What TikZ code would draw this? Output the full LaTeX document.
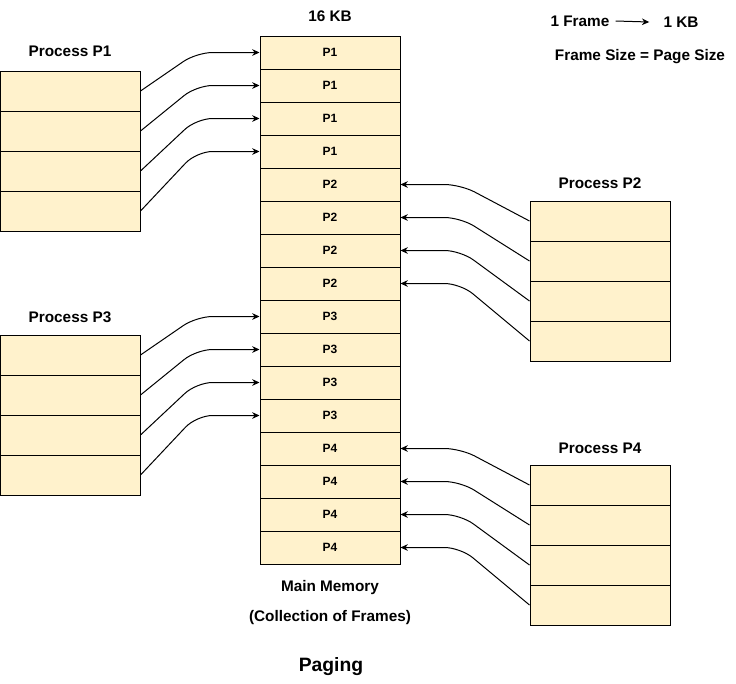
\documentclass[tikz,border=0pt]{standalone}
\usepackage{fontspec}
\setmainfont{Liberation Sans}
\usetikzlibrary{arrows.meta,calc}
\definecolor{boxfill}{HTML}{FFF2CC}
\tikzset{
  mem/.style={draw=black, fill=boxfill, line width=0.75pt, minimum width=105pt, minimum height=24.75pt, inner sep=0pt, font=\fontsize{9}{11}\selectfont\bfseries},
  pbox/.style={draw=black, fill=boxfill, line width=0.75pt, minimum width=105pt, minimum height=30pt, inner sep=0pt},
  lbl/.style={inner sep=0pt, font=\fontsize{11.5}{14}\selectfont\bfseries},
  title/.style={inner sep=0pt, font=\fontsize{14.5}{17}\selectfont\bfseries},
  conn/.style={draw=black, line width=0.75pt, rounded corners=12pt, -{Stealth[length=5.5pt,width=5pt]}},
}
\begin{document}
\begin{tikzpicture}[x=0.75pt,y=-0.75pt]
\useasboundingbox (0,0) rectangle (736,683);
% main memory
\foreach \i/\t in {1/P1,2/P1,3/P1,4/P1,5/P2,6/P2,7/P2,8/P2,9/P3,10/P3,11/P3,12/P3,13/P4,14/P4,15/P4,16/P4}{
  \node[mem] (m\i) at (330,{19.5+33*\i}) {\t};
}
% process boxes
\foreach \j in {1,2,3,4}{
  \node[pbox] (a\j) at (70,{51+40*\j}) {};
  \node[pbox] (c\j) at (70,{315+40*\j}) {};
  \node[pbox] (b\j) at (600,{181+40*\j}) {};
  \node[pbox] (d\j) at (600,{445+40*\j}) {};
}
% labels
\node[lbl] (lp1) at (70,51) {Process P1};
\node[lbl] (lp3) at (70,317) {Process P3};
\node[lbl] (lp2) at (600,183) {Process P2};
\node[lbl] (lp4) at (600,448) {Process P4};
\node[lbl] (kb) at (330,16) {16 KB};
\node[lbl] (fr) at (580,21) {1 Frame};
\node[lbl] (onekb) at (681,22) {1 KB};
\draw[line width=0.75pt,-{Stealth[length=5.5pt,width=5pt]}] (fr.east) ++(6,0) coordinate (fa) -- ($(onekb.west)+(-14,0)$) coordinate (fb);
\node[lbl] (fs) at (640,57) {Frame Size = Page Size};
\node[lbl] (mm) at (330,588) {Main Memory};
\node[lbl] (cf) at (330,618) {(Collection of Frames)};
\node[title] (pg) at (331,667) {Paging};
% connectors P1 and P3
\foreach \j/\m in {1/1,2/2,3/3,4/4}{
  \draw[conn] (a\j.east) -- ($(m\m.west)+(-63,0)$) -- (m\m.west);
}
\foreach \j/\m in {1/9,2/10,3/11,4/12}{
  \draw[conn] (c\j.east) -- ($(m\m.west)+(-63,0)$) -- (m\m.west);
}
% connectors P2 and P4
\foreach \j/\m in {1/5,2/6,3/7,4/8}{
  \draw[conn] (b\j.west) -- ($(m\m.east)+(60,0)$) -- (m\m.east);
}
\foreach \j/\m in {1/13,2/14,3/15,4/16}{
  \draw[conn] (d\j.west) -- ($(m\m.east)+(60,0)$) -- (m\m.east);
}
\end{tikzpicture}
\end{document}
